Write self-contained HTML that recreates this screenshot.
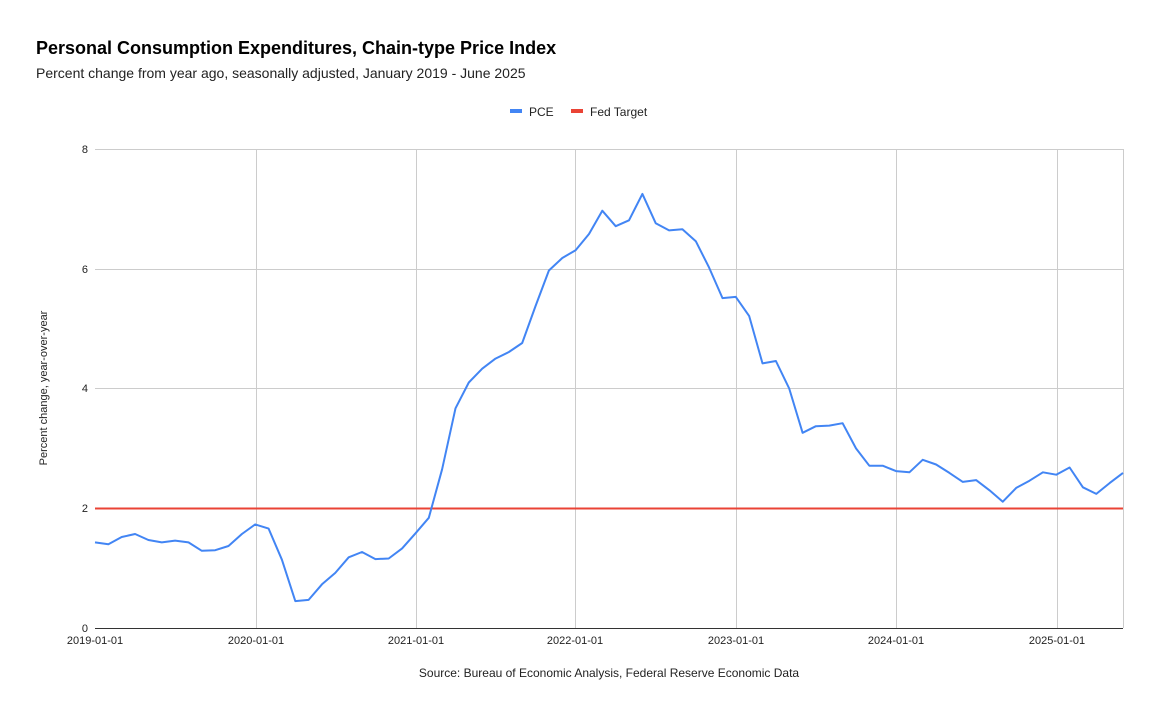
<!DOCTYPE html>
<html><head><meta charset="utf-8"><style>
body{margin:0;background:#fff;width:1159px;height:716px;overflow:hidden;font-family:"Liberation Sans",Arial,sans-serif}
</style></head><body>
<svg id="s" width="1159" height="716" xmlns="http://www.w3.org/2000/svg" font-family="Liberation Sans, Arial, sans-serif">
<rect width="1159" height="716" fill="#fff"/>
<text x="36" y="54" font-size="18" font-weight="bold" fill="#000">Personal Consumption Expenditures, Chain-type Price Index</text>
<text x="36" y="78" font-size="14" fill="#222">Percent change from year ago, seasonally adjusted, January 2019 - June 2025</text>
<rect x="510" y="109" width="12" height="4" fill="#4285f4"/>
<text x="529" y="116" font-size="12" fill="#222">PCE</text>
<rect x="571" y="109" width="12" height="4" fill="#ea4335"/>
<text x="590" y="116" font-size="12" fill="#222">Fed Target</text>
<g stroke="#ccc" stroke-width="1">
<line x1="95" y1="149.5" x2="1123" y2="149.5"/>
<line x1="95" y1="269.5" x2="1123" y2="269.5"/>
<line x1="95" y1="388.5" x2="1123" y2="388.5"/>
<line x1="95" y1="508.5" x2="1123" y2="508.5"/>
<line x1="256.5" y1="149" x2="256.5" y2="628"/>
<line x1="416.5" y1="149" x2="416.5" y2="628"/>
<line x1="575.5" y1="149" x2="575.5" y2="628"/>
<line x1="736.5" y1="149" x2="736.5" y2="628"/>
<line x1="896.5" y1="149" x2="896.5" y2="628"/>
<line x1="1057.5" y1="149" x2="1057.5" y2="628"/>
<line x1="1123.5" y1="149" x2="1123.5" y2="628"/>
</g>
<line x1="95" y1="628.5" x2="1123" y2="628.5" stroke="#333" stroke-width="1"/>
<g font-size="11" fill="#222" text-anchor="end">
<text x="88" y="153">8</text><text x="88" y="273">6</text><text x="88" y="392">4</text><text x="88" y="512">2</text><text x="88" y="632">0</text>
</g>
<g font-size="11" fill="#222" text-anchor="middle">
<text x="95" y="644">2019-01-01</text><text x="256" y="644">2020-01-01</text><text x="416" y="644">2021-01-01</text><text x="575" y="644">2022-01-01</text><text x="736" y="644">2023-01-01</text><text x="896" y="644">2024-01-01</text><text x="1057" y="644">2025-01-01</text>
</g>
<text transform="translate(47,388) rotate(-90)" font-size="11" fill="#222" text-anchor="middle">Percent change, year-over-year</text>
<text x="609" y="677" font-size="12" fill="#222" text-anchor="middle">Source: Bureau of Economic Analysis, Federal Reserve Economic Data</text>
<line x1="95" y1="508.5" x2="1123" y2="508.5" stroke="#ea4335" stroke-width="2"/>
<polyline id="p" fill="none" stroke="#4285f4" stroke-width="2" stroke-linejoin="round"/>
</svg>
<script>
var d=[1.43,1.40,1.52,1.57,1.47,1.43,1.46,1.43,1.29,1.30,1.37,1.57,
1.73,1.66,1.14,0.45,0.47,0.73,0.92,1.18,1.27,1.15,1.16,1.33,
1.58,1.84,2.65,3.67,4.10,4.33,4.50,4.61,4.76,5.38,5.97,6.18,
6.31,6.58,6.97,6.71,6.81,7.25,6.76,6.64,6.66,6.46,6.02,5.51,
5.53,5.21,4.42,4.46,4.00,3.26,3.37,3.38,3.42,3.00,2.71,2.71,
2.62,2.60,2.81,2.73,2.59,2.44,2.47,2.30,2.11,2.34,2.46,2.60,
2.56,2.68,2.35,2.24,2.42,2.59];
var pts=d.map(function(v,i){return (95+i*1028/77).toFixed(1)+","+(628-v*59.875).toFixed(1)}).join(" ");
document.getElementById("p").setAttribute("points",pts);
</script>
</body></html>
